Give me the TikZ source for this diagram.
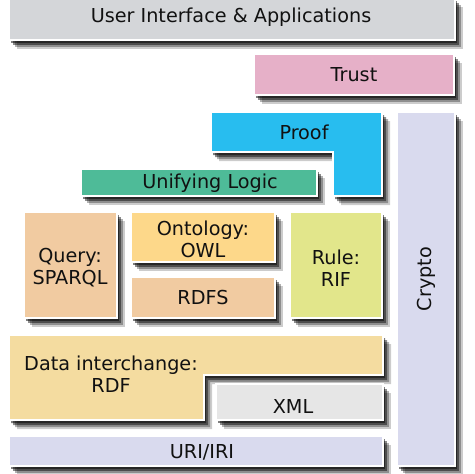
\documentclass[tikz,border=0pt]{standalone}
\usepackage{fontspec}
\setmainfont{DejaVu Sans}
\definecolor{cUI}{HTML}{D4D6D9}
\definecolor{cTrust}{HTML}{E6B0C8}
\definecolor{cProof}{HTML}{28BDEF}
\definecolor{cCrypto}{HTML}{D9DAEE}
\definecolor{cUnify}{HTML}{4EBB98}
\definecolor{cQuery}{HTML}{F1CBA1}
\definecolor{cOnto}{HTML}{FDD88A}
\definecolor{cRule}{HTML}{E2E68B}
\definecolor{cData}{HTML}{F4DCA0}
\definecolor{cXML}{HTML}{E6E6E6}
\definecolor{cText}{HTML}{111111}
\begin{document}
\begin{tikzpicture}[x=0.03cm,y=-0.03cm,
  layer/.style={draw=white, line width=1pt, line join=miter,
    preaction={fill=black,opacity=0.2,transform canvas={shift={(8,9)}}},
    preaction={fill=black,opacity=0.3,transform canvas={shift={(6,7)}}},
    preaction={fill=black,opacity=0.45,transform canvas={shift={(4,5)}}},
    preaction={fill=black,opacity=0.5,transform canvas={shift={(2,3)}}}},
  lbl/.style={font=\fontsize{16.4}{18.8}\selectfont, text=cText, align=center, inner sep=0pt}]
\fill[white] (0,0) rectangle (474,474);
\useasboundingbox (0,0) rectangle (474,474);
% shapes
\path[layer, fill=cUI] (9,-2) rectangle (455,40);
\path[layer, fill=cTrust] (254,54) rectangle (454,95);
\path[layer, fill=cProof] (211,112) -- (382,112) -- (382,196) -- (333,196) -- (333,152) -- (211,152) -- cycle;
\path[layer, fill=cCrypto] (397,112) rectangle (455,466);
\path[layer, fill=cUnify] (81,169) rectangle (317,196);
\path[layer, fill=cQuery] (24,212) rectangle (117,318);
\path[layer, fill=cOnto] (131,212) rectangle (275,262);
\path[layer, fill=cQuery] (131,277) rectangle (275,318);
\path[layer, fill=cRule] (290,212) rectangle (382,318);
\path[layer, fill=cData] (9,335) -- (383,335) -- (383,375) -- (204,375) -- (204,420) -- (9,420) -- cycle;
\path[layer, fill=cXML] (216,384) rectangle (383,420);
\path[layer, fill=cCrypto] (9,436) rectangle (383,466);
% labels
\node[lbl] (ui) at (231,17) {User Interface \& Applications};
\node[lbl] (trust) at (354,75) {Trust};
\node[lbl] (proof) at (304,132) {Proof};
\node[lbl] (unify) at (210,183) {Unifying Logic};
\node[lbl] (query) at (70,268) {Query:\\SPARQL};
\node[lbl] (onto) at (203,239) {Ontology:\\OWL};
\node[lbl] (rdfs) at (203,298) {RDFS};
\node[lbl] (rule) at (336,268) {Rule:\\RIF};
\node[lbl, rotate=90] (crypto) at (426,279) {Crypto};
\node[lbl] (data) at (111,374) {Data interchange:\\RDF};
\node[lbl] (xml) at (293,406) {XML};
\node[lbl] (uri) at (202,452) {URI/IRI};
\end{tikzpicture}
\end{document}
